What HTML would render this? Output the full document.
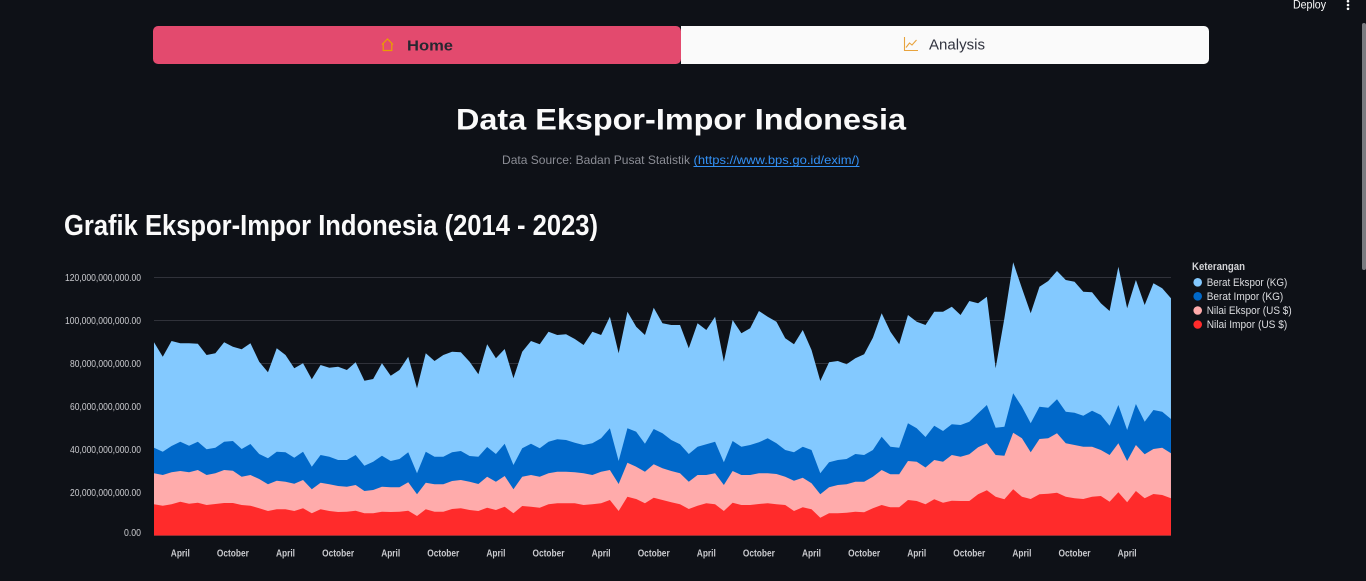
<!DOCTYPE html>
<html>
<head>
<meta charset="utf-8">
<style>
  html,body{margin:0;padding:0;background:#0E1117;overflow:hidden;}
  svg{display:block;}
  text{font-family:"Liberation Sans",sans-serif;}
</style>
</head>
<body>
<svg width="1366" height="581" viewBox="0 0 1366 581" xmlns="http://www.w3.org/2000/svg">
  <rect x="0" y="0" width="1366" height="581" fill="#0E1117"/>

  <!-- top right -->
  <text x="1293" y="8.5" font-size="12" fill="#FAFAFA" textLength="33" lengthAdjust="spacingAndGlyphs">Deploy</text>
  <circle cx="1348" cy="1.2" r="1.3" fill="#FAFAFA"/>
  <circle cx="1348" cy="5" r="1.3" fill="#FAFAFA"/>
  <circle cx="1348" cy="8.8" r="1.3" fill="#FAFAFA"/>
  <rect x="1362" y="23" width="4" height="247" rx="2" fill="#7a7b80"/>

  <!-- nav buttons -->
  <path d="M681,26 H1204 a5,5 0 0 1 5,5 V59 a5,5 0 0 1 -5,5 H681 Z" fill="#FAFAFA"/>
  <path d="M158,26 H676 a5,5 0 0 1 5,5 V59 a5,5 0 0 1 -5,5 H158 a5,5 0 0 1 -5,-5 V31 a5,5 0 0 1 5,-5 Z" fill="#E34A6E"/>
  <!-- home icon -->
  <path d="M382,44.5 L387.5,39 L393,44.5 M383.2,43.5 V50.5 H391.8 V43.5" fill="none" stroke="#E8A000" stroke-width="1.2"/>
  <text x="407" y="50.5" font-size="15" font-weight="bold" fill="#262730" textLength="46" lengthAdjust="spacingAndGlyphs">Home</text>
  <!-- analysis icon -->
  <path d="M904.5,37 V50.5 H918" fill="none" stroke="#E8A33D" stroke-width="1.1"/>
  <path d="M906,47.5 L909.5,43 L912,45 L916.5,40" fill="none" stroke="#E8A33D" stroke-width="1.1"/>
  <text x="929" y="49.3" font-size="14.5" fill="#31333F" textLength="56" lengthAdjust="spacingAndGlyphs">Analysis</text>

  <!-- title -->
  <text x="456" y="129.5" font-size="30" font-weight="bold" fill="#FAFAFA" textLength="450" lengthAdjust="spacingAndGlyphs">Data Ekspor-Impor Indonesia</text>
  <text x="502" y="164" font-size="12" fill="#8b8d95" textLength="188" lengthAdjust="spacingAndGlyphs">Data Source: Badan Pusat Statistik</text>
  <text x="693.5" y="164" font-size="12" fill="#3391f5" textLength="166" lengthAdjust="spacingAndGlyphs">(https://www.bps.go.id/exim/)</text>
  <rect x="693.5" y="166" width="166" height="1" fill="#3391f5"/>

  <!-- header -->
  <text x="64" y="235" font-size="29" font-weight="bold" fill="#FAFAFA" textLength="534" lengthAdjust="spacingAndGlyphs">Grafik Ekspor-Impor Indonesia (2014 - 2023)</text>

  <!-- gridlines -->
  <g stroke="#30323a" stroke-width="1">
    <line x1="154" y1="277.5" x2="1171" y2="277.5"/>
    <line x1="154" y1="320.5" x2="1171" y2="320.5"/>
    <line x1="154" y1="363.5" x2="1171" y2="363.5"/>
    <line x1="154" y1="406.5" x2="1171" y2="406.5"/>
    <line x1="154" y1="449.5" x2="1171" y2="449.5"/>
    <line x1="154" y1="492.5" x2="1171" y2="492.5"/>
    <line x1="154" y1="535.5" x2="1171" y2="535.5"/>
  </g>

  <!-- y labels -->
  <g font-size="10" fill="#c9cace" text-anchor="end">
    <text x="141" y="281" textLength="76" lengthAdjust="spacingAndGlyphs">120,000,000,000.00</text>
    <text x="141" y="324" textLength="76" lengthAdjust="spacingAndGlyphs">100,000,000,000.00</text>
    <text x="141" y="367" textLength="71" lengthAdjust="spacingAndGlyphs">80,000,000,000.00</text>
    <text x="141" y="410" textLength="71" lengthAdjust="spacingAndGlyphs">60,000,000,000.00</text>
    <text x="141" y="453" textLength="71" lengthAdjust="spacingAndGlyphs">40,000,000,000.00</text>
    <text x="141" y="496" textLength="71" lengthAdjust="spacingAndGlyphs">20,000,000,000.00</text>
    <text x="141" y="536" textLength="17" lengthAdjust="spacingAndGlyphs">0.00</text>
  </g>

  <!-- areas -->
  <g transform="translate(154,0) scale(8.767,1)">
    <polygon fill="#83C9FF" points="0,535.5 0,342.3 1,356.7 2,341 3,343.3 4,343.3 5,343.7 6,355 7,353.3 8,342.3 9,346.7 10,349.3 11,343.3 12,361.7 13,372.3 14,348.3 15,355 16,368.3 17,363.3 18,379.3 19,365 20,367.7 21,366.7 22,370 23,362.3 24,380.7 25,379 26,363.3 27,375.7 28,370 29,356.7 30,388.3 31,353.3 32,361 33,355 34,351.7 35,352.3 36,361.7 37,374.3 38,344.3 39,358.3 40,349 41,378.3 42,351.7 43,341 44,344.3 45,331.7 46,335 47,334.3 48,339 49,345 50,331.7 51,335 52,316.7 53,353.3 54,311.7 55,326.7 56,335 57,307.7 58,323.3 59,325 60,325 61,348.3 62,323.3 63,330 64,316.7 65,361.7 66,320 67,333.3 68,328.3 69,311 70,316.7 71,321.7 72,338.3 73,344.3 74,330 75,350 76,381 77,362.3 78,361 79,364.3 80,358.3 81,354.3 82,337.7 83,313.3 84,331.7 85,344.3 86,315 87,321.7 88,325 89,311.7 90,311.7 91,306.7 92,315 93,301 94,303.3 95,296.7 96,368.3 97,318.3 98,262.3 99,288.3 100,313.3 101,286.7 102,281 103,271 104,280 105,281.7 106,291.7 107,292.3 108,303.3 109,311 110,266.7 111,308.3 112,280 113,305 114,283.3 115,288.3 116,298.3 116,535.5"/>
    <polygon fill="#0068C9" points="0,535.5 0,447.7 1,451.7 2,446 3,441.7 4,445.7 5,441.7 6,449.3 7,447.7 8,441.7 9,441 10,449 11,444 12,454 13,458.3 14,451.7 15,452.3 16,457.7 17,451.7 18,466.7 19,455 20,456.7 21,460 22,460 23,455 24,465.7 25,461.7 26,455.7 27,461 28,459 29,452.3 30,473.3 31,451.7 32,456.7 33,456.7 34,452.3 35,451 36,456 37,456.7 38,447 39,454 40,443.7 41,465 42,448.3 43,443.7 44,448.3 45,441.7 46,439.3 47,440 48,442.7 49,445 50,443.3 51,438.3 52,428.3 53,461 54,428.3 55,431.7 56,443.7 57,429 58,433.3 59,440 60,444.3 61,454 62,446.7 63,444.3 64,441.7 65,462.3 66,441 67,446.7 68,445 69,442.3 70,438.3 71,443.3 72,450 73,452.3 74,446.7 75,450 76,473.3 77,462.3 78,460 79,459 80,454 81,455 82,450 83,436.7 84,446.7 85,447.7 86,423.3 87,428.3 88,437 89,425.7 90,431 91,424.3 92,425 93,421.7 94,413.3 95,405 96,427.7 97,426.7 98,393.3 99,406.7 100,423.3 101,406.7 102,407.7 103,399.3 104,411.7 105,412.7 106,415.7 107,410.7 108,415 109,425.7 110,405 111,430 112,404 113,421.7 114,410 115,411.7 116,419 116,535.5"/>
    <polygon fill="#FFABAB" points="0,535.5 0,473.3 1,475 2,472.3 3,471 4,472.3 5,470 6,475 7,473.3 8,470 9,470.7 10,476.7 11,475 12,479 13,484.3 14,480.7 15,481.7 16,483.7 17,480 18,489.3 19,482.7 20,484.3 21,486 22,486.7 23,485 24,491 25,490 26,486.7 27,487.3 28,487.3 29,482.3 30,494.3 31,482.7 32,484.3 33,484.3 34,481 35,480 36,481.7 37,484 38,476.7 39,481.7 40,476 41,489.3 42,476.7 43,475 44,476.7 45,473.3 46,471.7 47,471.7 48,472.3 49,473.3 50,475 51,471.7 52,470 53,484 54,462.7 55,466.7 56,471.7 57,464.3 58,468.3 59,471 60,473.3 61,481.7 62,475 63,475 64,473.3 65,485 66,471 67,475 68,475 69,473.3 70,473.3 71,474 72,476.7 73,480.7 74,477.7 75,483.3 76,494.3 77,487.3 78,485 79,484.3 80,481.7 81,481.7 82,476.7 83,470 84,474.3 85,474.3 86,461 87,461.7 88,467.5 89,460 90,461.7 91,455 92,456.7 93,454.3 94,447.3 95,443.3 96,455 97,455.7 98,432.7 99,438.3 100,452.3 101,439 102,438.3 103,433.3 104,443.3 105,445 106,446.7 107,446.7 108,450 109,455 110,443.3 111,461 112,445 113,454.3 114,449 115,447.7 116,453.3 116,535.5"/>
    <polygon fill="#FF2B2B" points="0,535.5 0,504.3 1,505.7 2,504.3 3,501.7 4,503.7 5,502.7 6,505 7,504 8,503 9,503 10,505 11,505.7 12,508.3 13,511 14,509.3 15,509.3 16,511 17,508.3 18,513.3 19,509.3 20,511 21,512 22,511.7 23,510.7 24,513.3 25,513.3 26,511.7 27,512 28,511.7 29,510.7 30,516 31,509.3 32,511.7 33,511.7 34,509 35,508.3 36,510 37,511 38,507.7 39,510 40,506.7 41,513.3 42,506 43,506.7 44,507.7 45,504.3 46,503.3 47,503.3 48,503.3 49,505 50,504.3 51,503.3 52,500 53,511 54,496.7 55,499 56,503.3 57,497.7 58,500 59,502.3 60,504.3 61,509 62,505.7 63,503.3 64,504.3 65,511 66,502.7 67,505 68,505 69,504 70,503.3 71,504.3 72,505 73,511 74,507.3 75,509.3 76,517.7 77,513.3 78,513.3 79,512.7 80,511.7 81,512.3 82,508.3 83,505 84,507.3 85,507.3 86,500 87,501 88,504.3 89,499.3 90,502.7 91,500.7 92,501 93,501 94,494.3 95,490.3 96,496.7 97,499.3 98,489.3 99,496.7 100,499 101,494.3 102,493.7 103,492.7 104,496.7 105,498.3 106,499 107,496.7 108,496 109,501.7 110,492.3 111,502.3 112,491 113,498.3 114,494 115,495 116,498.3 116,535.5"/>
  </g>

  <!-- x labels -->
  <g font-size="10" font-weight="bold" fill="#c9cace" text-anchor="middle">
    <text x="180.3" y="556.5" textLength="19" lengthAdjust="spacingAndGlyphs">April</text>
    <text x="232.9" y="556.5" textLength="32" lengthAdjust="spacingAndGlyphs">October</text>
    <text x="285.5" y="556.5" textLength="19" lengthAdjust="spacingAndGlyphs">April</text>
    <text x="338.1" y="556.5" textLength="32" lengthAdjust="spacingAndGlyphs">October</text>
    <text x="390.7" y="556.5" textLength="19" lengthAdjust="spacingAndGlyphs">April</text>
    <text x="443.3" y="556.5" textLength="32" lengthAdjust="spacingAndGlyphs">October</text>
    <text x="495.9" y="556.5" textLength="19" lengthAdjust="spacingAndGlyphs">April</text>
    <text x="548.5" y="556.5" textLength="32" lengthAdjust="spacingAndGlyphs">October</text>
    <text x="601.1" y="556.5" textLength="19" lengthAdjust="spacingAndGlyphs">April</text>
    <text x="653.7" y="556.5" textLength="32" lengthAdjust="spacingAndGlyphs">October</text>
    <text x="706.3" y="556.5" textLength="19" lengthAdjust="spacingAndGlyphs">April</text>
    <text x="758.9" y="556.5" textLength="32" lengthAdjust="spacingAndGlyphs">October</text>
    <text x="811.5" y="556.5" textLength="19" lengthAdjust="spacingAndGlyphs">April</text>
    <text x="864.1" y="556.5" textLength="32" lengthAdjust="spacingAndGlyphs">October</text>
    <text x="916.7" y="556.5" textLength="19" lengthAdjust="spacingAndGlyphs">April</text>
    <text x="969.3" y="556.5" textLength="32" lengthAdjust="spacingAndGlyphs">October</text>
    <text x="1021.9" y="556.5" textLength="19" lengthAdjust="spacingAndGlyphs">April</text>
    <text x="1074.5" y="556.5" textLength="32" lengthAdjust="spacingAndGlyphs">October</text>
    <text x="1127.1" y="556.5" textLength="19" lengthAdjust="spacingAndGlyphs">April</text>
  </g>

  <!-- legend -->
  <text x="1192" y="270" font-size="11" font-weight="bold" fill="#d2d3d6" textLength="53" lengthAdjust="spacingAndGlyphs">Keterangan</text>
  <circle cx="1197.7" cy="282.3" r="4.3" fill="#83C9FF"/>
  <circle cx="1197.7" cy="296.3" r="4.3" fill="#0068C9"/>
  <circle cx="1197.7" cy="310.5" r="4.3" fill="#FFABAB"/>
  <circle cx="1197.7" cy="324.5" r="4.3" fill="#FF2B2B"/>
  <g font-size="11" fill="#dcdde0">
    <text x="1206.7" y="286" textLength="80.6" lengthAdjust="spacingAndGlyphs">Berat Ekspor (KG)</text>
    <text x="1206.7" y="300" textLength="76.6" lengthAdjust="spacingAndGlyphs">Berat Impor (KG)</text>
    <text x="1206.7" y="314.2" textLength="85" lengthAdjust="spacingAndGlyphs">Nilai Ekspor (US $)</text>
    <text x="1206.7" y="328.2" textLength="80.6" lengthAdjust="spacingAndGlyphs">Nilai Impor (US $)</text>
  </g>
</svg>
</body>
</html>
